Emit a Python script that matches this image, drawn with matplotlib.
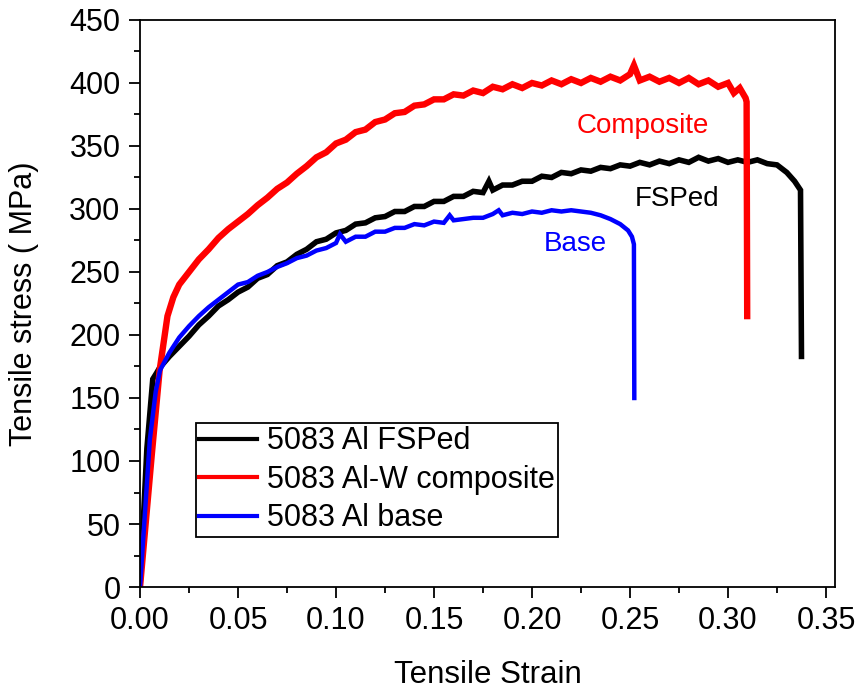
import matplotlib
matplotlib.use('Agg')
import matplotlib.pyplot as plt
from matplotlib.lines import Line2D
from matplotlib.ticker import MultipleLocator, FormatStrFormatter

plt.rcParams['font.family'] = ['Liberation Sans', 'DejaVu Sans']

# 5083 Al FSPed
fsp_strain = [0.0, 0.0035, 0.0065, 0.0085, 0.010, 0.015, 0.020, 0.025, 0.030, 0.035,
              0.040, 0.045, 0.050, 0.055, 0.060, 0.065, 0.070, 0.075, 0.080, 0.085,
              0.090, 0.095, 0.100, 0.105, 0.110, 0.115, 0.120, 0.125, 0.130, 0.135,
              0.140, 0.145, 0.150, 0.155, 0.160, 0.165, 0.170, 0.175, 0.178, 0.180,
              0.185, 0.190, 0.195, 0.200, 0.205, 0.210, 0.215, 0.220, 0.225, 0.230,
              0.235, 0.240, 0.245, 0.250, 0.255, 0.260, 0.265, 0.270, 0.275, 0.280,
              0.285, 0.290, 0.295, 0.300, 0.305, 0.310, 0.315, 0.320, 0.325, 0.330,
              0.334, 0.337, 0.3375]
fsp_stress = [0, 110, 165, 170, 174, 183, 191, 199, 208, 215,
              223, 228, 234, 238, 245, 248, 255, 258, 264, 268,
              274, 276, 281, 283, 288, 289, 293, 294, 298, 298,
              302, 302, 306, 306, 310, 310, 314, 313, 322, 315,
              319, 319, 322, 322, 326, 325, 329, 328, 331, 330,
              333, 332, 335, 334, 337, 335, 338, 336, 339, 337,
              341, 338, 340, 337, 339, 337, 339, 336, 335, 329,
              322, 315, 183]

# 5083 Al-W composite
comp_strain = [0.0, 0.006, 0.010, 0.014, 0.017, 0.020, 0.025, 0.030, 0.035, 0.040,
               0.045, 0.050, 0.055, 0.060, 0.065, 0.070, 0.075, 0.080, 0.085, 0.090,
               0.095, 0.100, 0.105, 0.110, 0.115, 0.120, 0.125, 0.130, 0.135, 0.140,
               0.145, 0.150, 0.155, 0.160, 0.165, 0.170, 0.175, 0.180, 0.185, 0.190,
               0.195, 0.200, 0.205, 0.210, 0.215, 0.220, 0.225, 0.230, 0.235, 0.240,
               0.245, 0.250, 0.252, 0.255, 0.260, 0.265, 0.270, 0.275, 0.280, 0.285,
               0.290, 0.295, 0.300, 0.303, 0.306, 0.309, 0.3095, 0.3098]
comp_stress = [0, 105, 172, 215, 230, 240, 250, 260, 268, 277,
               284, 290, 296, 303, 309, 316, 321, 328, 334, 341,
               345, 352, 355, 361, 363, 369, 371, 376, 377, 382,
               383, 387, 387, 391, 390, 394, 392, 397, 395, 399,
               396, 400, 398, 402, 399, 403, 400, 404, 401, 405,
               402, 407, 414, 402, 405, 401, 404, 400, 404, 399,
               402, 397, 400, 392, 396, 388, 385, 215]

# 5083 Al base
base_strain = [0.0, 0.005, 0.008, 0.0102, 0.015, 0.020, 0.025, 0.030, 0.035, 0.040,
               0.045, 0.050, 0.055, 0.060, 0.065, 0.070, 0.075, 0.080, 0.085, 0.090,
               0.095, 0.100, 0.102, 0.105, 0.110, 0.115, 0.120, 0.125, 0.130, 0.135,
               0.140, 0.145, 0.150, 0.155, 0.158, 0.160, 0.165, 0.170, 0.175, 0.180,
               0.183, 0.185, 0.190, 0.195, 0.200, 0.205, 0.210, 0.215, 0.220, 0.225,
               0.230, 0.235, 0.240, 0.245, 0.249, 0.251, 0.252, 0.2522]
base_stress = [0, 117, 155, 172, 186, 198, 207, 215, 222, 228,
               234, 240, 242, 247, 250, 254, 257, 261, 263, 267,
               269, 273, 280, 274, 278, 278, 282, 282, 285, 285,
               288, 287, 290, 289, 295, 291, 292, 293, 293, 296,
               299, 295, 297, 296, 298, 297, 299, 298, 299, 298,
               297, 295, 292, 288, 283, 278, 272, 150]

labels = ['5083 Al FSPed', '5083 Al-W composite', '5083 Al base']
colors = ['#000000', '#ff0000', '#0000ff']

fig = plt.figure(figsize=(8.66, 6.96), dpi=100)
ax = fig.add_axes([0.1617, 0.1566, 0.8025, 0.8147])

ax.plot(fsp_strain, fsp_stress, color=colors[0], lw=4.0, solid_joinstyle='miter')
ax.plot(comp_strain, comp_stress, color=colors[1], lw=4.6, solid_joinstyle='miter')
ax.plot(base_strain, base_stress, color=colors[2], lw=3.2, solid_joinstyle='miter')

ax.text(0.2566, 366, 'Composite', color=colors[1], fontsize=20, ha='center', va='center')
ax.text(0.274, 308, 'FSPed', color=colors[0], fontsize=20, ha='center', va='center')
ax.text(0.222, 272, 'Base', color=colors[2], fontsize=20, ha='center', va='center')

ax.set_xlim(0, 0.3546)
ax.set_ylim(0, 450)
ax.xaxis.set_major_locator(MultipleLocator(0.05))
ax.xaxis.set_minor_locator(MultipleLocator(0.025))
ax.yaxis.set_major_locator(MultipleLocator(50))
ax.yaxis.set_minor_locator(MultipleLocator(25))
ax.xaxis.set_major_formatter(FormatStrFormatter('%.2f'))
ax.tick_params(which='major', direction='out', length=8, width=1.3, labelsize=22, pad=6)
ax.tick_params(which='minor', direction='out', length=4.5, width=1.3)
ax.tick_params(top=False, right=False)
for s in ax.spines.values():
    s.set_linewidth(1.3)

ax.set_xlabel('Tensile Strain', fontsize=22.5, labelpad=17)
ax.set_ylabel('Tensile stress ( MPa)', fontsize=22, labelpad=22)

handles = [Line2D([], [], color=c, lw=3) for c in colors]
leg = ax.legend(handles, labels, loc='lower left', bbox_to_anchor=(0.08, 0.088), fontsize=22,
                frameon=True, fancybox=False, edgecolor='black', framealpha=1,
                handlelength=1.9, handletextpad=0.3, labelspacing=0.28,
                borderpad=0.12, borderaxespad=0)
leg.get_frame().set_linewidth(1.3)

fig.savefig('out.png', dpi=100)
